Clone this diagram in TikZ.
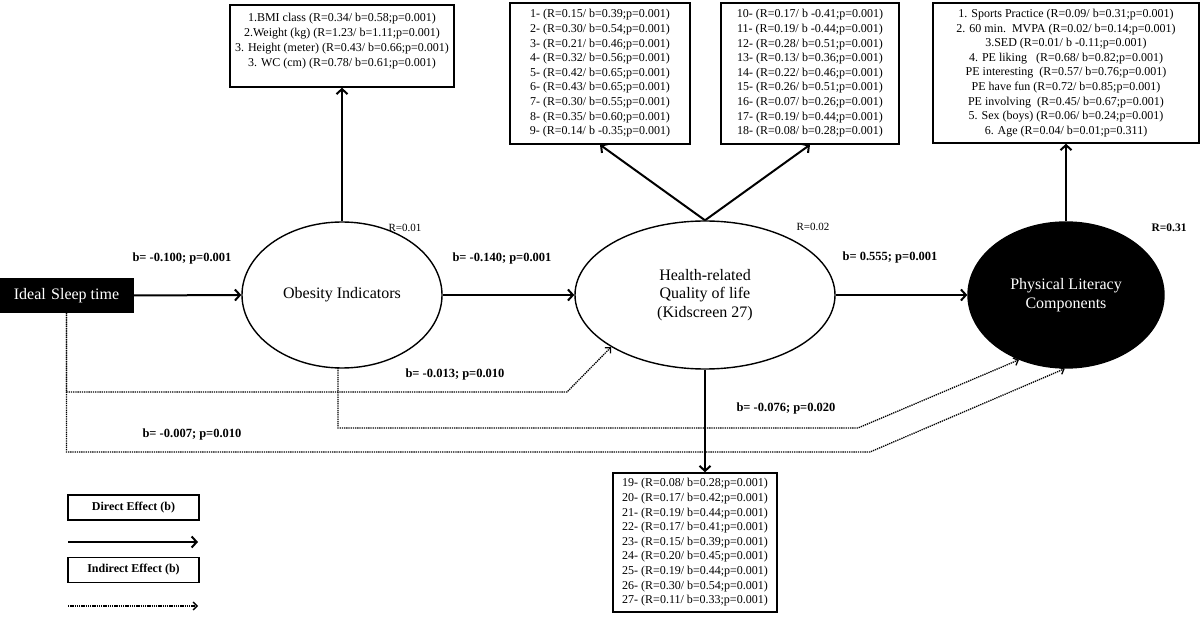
\documentclass[tikz,border=0pt]{standalone}
\usepackage{fontspec}
\setmainfont{Liberation Serif}
\usetikzlibrary{arrows.meta,shapes.geometric,calc}
\tikzset{
  box/.style={draw, line width=1.5pt, fill=white, inner sep=0pt, font=\fontsize{12}{14.6}\selectfont, align=center},
  ell/.style={ellipse, draw, line width=1.4pt, inner sep=0pt, font=\fontsize{16}{18.5}\selectfont, align=center},
  mainarr/.style={line width=2pt, -{Straight Barb[length=5pt,width=11pt]}},
  indarr/.style={line width=1.3pt, dash pattern=on 1.3pt off 0.9pt, -{Straight Barb[length=4pt,width=8pt]}},
  coef/.style={font=\bfseries\fontsize{12.5}{14}\selectfont},
  rlab/.style={font=\fontsize{11}{13}\selectfont},
  leg/.style={draw, line width=1.3pt, inner sep=0pt, font=\bfseries\fontsize{12}{14}\selectfont}
}
\begin{document}
\begin{tikzpicture}[x=1pt,y=-1pt]
\useasboundingbox (0,0) rectangle (1200,617);
% main nodes
\node[box, fill=black, text=white, minimum width=133, minimum height=33, font=\fontsize{16}{18}\selectfont] (is) at (66.5,295.5) {Ideal\,\,Sleep time};
\node[ell, minimum width=200, minimum height=146] (ob) at (342,295) {Obesity Indicators};
\node[ell, minimum width=260, minimum height=148] (hq) at (705,295) {Health-related\\Quality of life\\(Kidscreen 27)};
\node[ell, fill=black, text=white, minimum width=196, minimum height=146] (pl) at (1066,295) {Physical Literacy\\Components};
% indicator boxes
\node[box, minimum width=224, minimum height=82] (tl) at (342,46) {};
\node[font=\fontsize{12}{14.8}\selectfont, align=center, inner sep=0pt] (tlt) at (342,41) {1.BMI class (R=0.34/ b=0.58;p=0.001)\\2.Weight (kg) (R=1.23/ b=1.11;p=0.001)\\3. Height (meter) (R=0.43/ b=0.66;p=0.001)\\3. WC (cm) (R=0.78/ b=0.61;p=0.001)};
\node[box, minimum width=180, minimum height=141] (m1) at (600,73.5) {1- (R=0.15/ b=0.39;p=0.001)\\2- (R=0.30/ b=0.54;p=0.001)\\3- (R=0.21/ b=0.46;p=0.001)\\4- (R=0.32/ b=0.56;p=0.001)\\5- (R=0.42/ b=0.65;p=0.001)\\6- (R=0.43/ b=0.65;p=0.001)\\7- (R=0.30/ b=0.55;p=0.001)\\8- (R=0.35/ b=0.60;p=0.001)\\9- (R=0.14/ b -0.35;p=0.001)};
\node[box, minimum width=178, minimum height=141] (m2) at (810,73.5) {10- (R=0.17/ b -0.41;p=0.001)\\11- (R=0.19/ b -0.44;p=0.001)\\12- (R=0.28/ b=0.51;p=0.001)\\13- (R=0.13/ b=0.36;p=0.001)\\14- (R=0.22/ b=0.46;p=0.001)\\15- (R=0.26/ b=0.51;p=0.001)\\16- (R=0.07/ b=0.26;p=0.001)\\17- (R=0.19/ b=0.44;p=0.001)\\18- (R=0.08/ b=0.28;p=0.001)};
\node[box, minimum width=266, minimum height=140] (tr) at (1066,73) {1. Sports Practice (R=0.09/ b=0.31;p=0.001)\\2. 60 min.\ \ MVPA (R=0.02/ b=0.14;p=0.001)\\3.SED (R=0.01/ b -0.11;p=0.001)\\4. PE liking\ \ \ (R=0.68/ b=0.82;p=0.001)\\PE interesting\ \ (R=0.57/ b=0.76;p=0.001)\\PE have fun (R=0.72/ b=0.85;p=0.001)\\PE involving\ \ (R=0.45/ b=0.67;p=0.001)\\5. Sex (boys) (R=0.06/ b=0.24;p=0.001)\\6. Age (R=0.04/ b=0.01;p=0.311)};
\node[box, minimum width=164, minimum height=139] (bb) at (695,542.5) {19- (R=0.08/ b=0.28;p=0.001)\\20- (R=0.17/ b=0.42;p=0.001)\\21- (R=0.19/ b=0.44;p=0.001)\\22- (R=0.17/ b=0.41;p=0.001)\\23- (R=0.15/ b=0.39;p=0.001)\\24- (R=0.20/ b=0.45;p=0.001)\\25- (R=0.19/ b=0.44;p=0.001)\\26- (R=0.30/ b=0.54;p=0.001)\\27- (R=0.11/ b=0.33;p=0.001)};
% direct arrows
\draw[mainarr] (is.east) -- (ob.west);
\draw[mainarr] (ob.east) -- (hq.west);
\draw[mainarr] (hq.east) -- (pl.west);
\draw[mainarr] (ob.north) -- (tl.south);
\draw[mainarr] (hq.north) -- (m1.south);
\draw[mainarr] (hq.north) -- (m2.south);
\draw[mainarr] (pl.north) -- (tr.south);
\draw[mainarr] (hq.south) -- (hq.south |- bb.north);
% indirect paths
\coordinate (k1) at (567,392);
\coordinate (k2) at (858,428);
\coordinate (k3) at (870,452);
\coordinate (obd) at (338,368);
\draw[indarr] (is.south) |- (k1) -- (hq.209);
\draw[indarr] (obd) |- (k2) -- (pl.234);
\draw[indarr] (is.south) |- (k3) -- (pl.269);
% labels
\node[coef] (c1) at (182,258) {b= -0.100; p=0.001};
\node[coef] (c2) at (502,258) {b= -0.140; p=0.001};
\node[coef] (c3) at (890,257) {b= 0.555; p=0.001};
\node[coef] (c4) at (455,374) {b= -0.013; p=0.010};
\node[coef] (c5) at (786,408) {b= -0.076; p=0.020};
\node[coef] (c6) at (192,434) {b= -0.007; p=0.010};
\node[rlab] (r1) at (405,228) {R=0.01};
\node[rlab] (r2) at (813,227) {R=0.02};
\node[rlab, font=\bfseries\fontsize{11.5}{13}\selectfont] (r3) at (1169,228) {R=0.31};
% legend
\node[leg, minimum width=131, minimum height=25] (ld) at (133.5,507.5) {Direct Effect (b)};
\coordinate (la1) at (68,542);
\coordinate (la2) at (198,542);
\draw[mainarr] (la1) -- (la2);
\node[leg, minimum width=131, minimum height=25] (li) at (133.5,570) {Indirect Effect (b)};
\coordinate (lb1) at (68,606);
\coordinate (lb2) at (198,606);
\draw[indarr] (lb1) -- (lb2);
\end{tikzpicture}
\end{document}
